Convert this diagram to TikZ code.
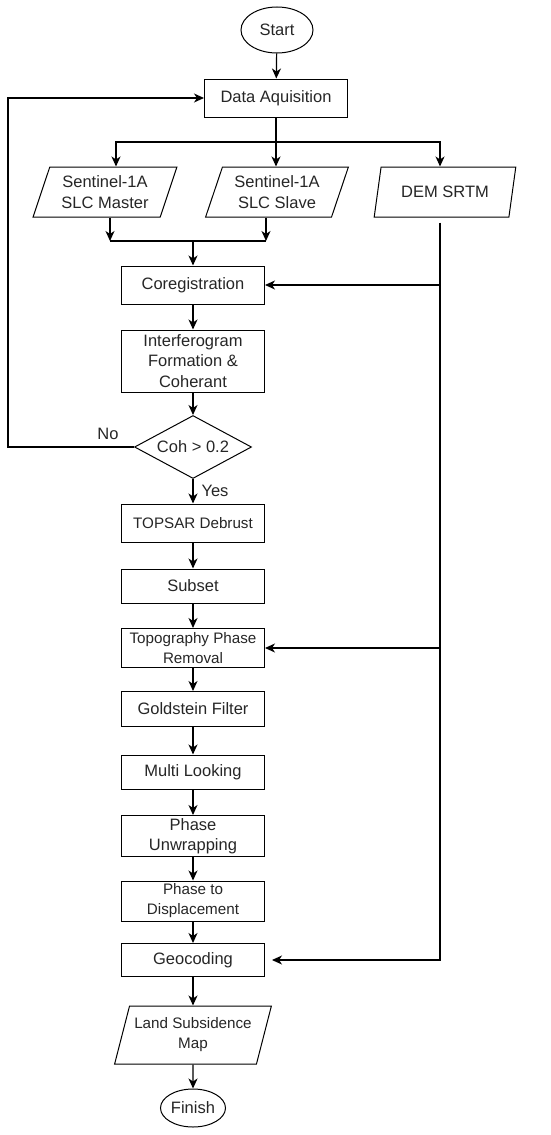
\documentclass[tikz,border=0pt]{standalone}
\usepackage{fontspec}
\setmainfont{Liberation Sans}
\usetikzlibrary{shapes.geometric, arrows.meta}

\begin{document}
\begin{tikzpicture}[x=1pt, y=-1pt,
  line width=1.2pt,
  >={Stealth[length=10pt,width=9pt,inset=3pt]},
  every node/.style={font=\fontsize{16.5}{20.5}\selectfont, inner sep=0pt, align=center, text=black!85},
  small/.style={font=\fontsize{15.2}{20}\selectfont},
  proc/.style={draw, rectangle, line width=1pt, minimum width=143pt},
  iobox/.style={draw, trapezium, line width=1pt, trapezium left angle=68, trapezium right angle=112,
    trapezium stretches=true, minimum height=50pt},
  term/.style={draw, ellipse, line width=1pt},
  decide/.style={draw, diamond, line width=1pt, aspect=1.86, minimum width=117pt, minimum height=63pt}]
  \useasboundingbox (0,0) rectangle (550,1135);

  \node[term, minimum width=72pt, minimum height=46pt] (start) at (277,30) {Start};
  \node[proc, minimum height=38pt] (acq) at (276,98) {Data Aquisition};
  \node[iobox, minimum width=144pt] (master) at (105,192) {Sentinel-1A\\SLC Master};
  \node[iobox, minimum width=143pt] (slave) at (277,192) {Sentinel-1A\\SLC Slave};
  \node[iobox, minimum width=143pt] (dem) at (445,192) {DEM SRTM};
  \node[proc, minimum height=38pt] (coreg) at (193,285) {Coregistration};
  \node[proc, minimum height=62pt] (ifg) at (193,361) {Interferogram\\Formation \&\\Coherant};
  \node[decide] (coh) at (193,447) {Coh > 0.2};
  \node[proc, minimum height=38pt, small] (deburst) at (193,523) {TOPSAR Debrust};
  \node[proc, minimum height=34pt] (subset) at (193,586) {Subset};
  \node[proc, minimum height=39pt, small] (topo) at (193,648) {Topography Phase\\Removal};
  \node[proc, minimum height=35pt] (gold) at (193,709) {Goldstein Filter};
  \node[proc, minimum height=34pt] (multi) at (193,772) {Multi Looking};
  \node[proc, minimum height=41pt] (unwrap) at (193,836) {Phase\\Unwrapping};
  \node[proc, minimum height=40pt, small] (disp) at (193,901) {Phase to\\Displacement};
  \node[proc, minimum height=33pt] (geo) at (193,960) {Geocoding};
  \node[iobox, minimum width=157pt, minimum height=58pt, small] (map) at (193,1035) {Land Subsidence\\Map};
  \node[term, minimum width=65pt, minimum height=38pt] (finish) at (193,1108) {Finish};

  \node (no) at (108,434) {No};
  \node (yes) at (215,491) {Yes};

  % branching to the inputs
  \coordinate (split) at (276,142);
  \draw[->] (start) -- (acq);
  \draw (acq) -- (split);
  \draw[->] (split) -- (slave.north -| split);
  \draw[->] (split) -| ([xshift=11pt]master.north);
  \draw[->] (split) -| ([xshift=-5pt]dem.north);

  % merging master and slave
  \coordinate (mleft) at (110,241);
  \coordinate (mright) at (266,241);
  \coordinate (merge) at (193,241);
  \draw[->] (master.south -| mleft) -- (mleft);
  \draw[->] (slave.south -| mright) -- (mright);
  \draw (mleft) -- (mright);
  \draw[->] (merge) -- (coreg);

  % DEM feed
  \coordinate (feed) at (440,958);
  \draw[->] ([yshift=-5pt]dem.south -| feed) |- ([xshift=7pt]geo.east);
  \draw[->] (coreg.east -| feed) -- (coreg.east);
  \draw[->] (topo.east -| feed) -- (topo.east);

  % main chain
  \draw[->] (coreg) -- (ifg);
  \draw[->] (ifg) -- (coh);
  \draw[->] (coh) -- (deburst);
  \draw[->] (deburst) -- (subset);
  \draw[->] (subset) -- (topo);
  \draw[->] (topo) -- (gold);
  \draw[->] (gold) -- (multi);
  \draw[->] (multi) -- (unwrap);
  \draw[->] (unwrap) -- (disp);
  \draw[->] (disp) -- (geo);
  \draw[->] (geo) -- (map);
  \draw[->] (map) -- (finish);

  % loop back
  \coordinate (back) at (8,0);
  \draw[->] (coh.west) -- (coh.west -| back) |- (acq.west);
\end{tikzpicture}
\end{document}
